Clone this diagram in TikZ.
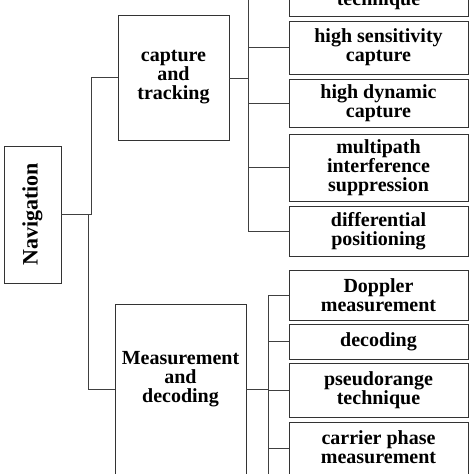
\documentclass[tikz,border=0pt]{standalone}
\usepackage{fontspec}
\setmainfont{Liberation Serif}
\begin{document}
\begin{tikzpicture}[x=1pt,y=-1pt,
  box/.style={draw=black!80,line width=0.9pt,inner sep=0pt,align=center,
    font=\fontsize{20}{19}\selectfont\bfseries},
  txt/.style={inner sep=0pt,align=center,font=\fontsize{20}{19}\selectfont\bfseries},
  wire/.style={draw=black!75,line width=0.9pt}]
\useasboundingbox (0,0) rectangle (474,474);
\clip (0,0) rectangle (474,474);
% root
\node[box,minimum width=57,minimum height=137] (nav) at (32.5,214.5)
  {\rotatebox{90}{\fontsize{22}{22}\selectfont\bfseries Navigation}};
% level 1
\node[box,minimum width=111,minimum height=125] (cap) at (173.5,77.5) {capture\\and\\tracking};
\node[box,minimum width=131,minimum height=190,anchor=north] (meas) at (180.5,304) {};
\node[txt] (meastxt) at (180.5,379) {Measurement\\and\\decoding};
% capture children
\node[box,minimum width=179,minimum height=53] (tech) at (378.5,-10.5) {};
\node[txt,anchor=base] (techtxt) at (378.5,5) {technique};
\node[box,minimum width=179,minimum height=53] (hs) at (378.5,47.5) {high sensitivity\\capture};
\node[box,minimum width=179,minimum height=48] (hd) at (378.5,103) {high dynamic\\capture};
\node[box,minimum width=179,minimum height=67] (mp) at (378.5,167.5) {multipath\\interference\\suppression};
\node[box,minimum width=179,minimum height=50] (dp) at (378.5,231) {differential\\positioning};
% measurement children
\node[box,minimum width=179,minimum height=50] (dop) at (378.5,295) {Doppler\\measurement};
\node[box,minimum width=179,minimum height=35] (dec) at (378.5,341.5) {decoding};
\node[box,minimum width=179,minimum height=54] (pr) at (378.5,390) {pseudorange\\technique};
\node[box,minimum width=179,minimum height=70,anchor=north] (cp) at (378.5,422) {};
\node[txt] (cptxt) at (378.5,447) {carrier phase\\measurement};
% connectors root
\coordinate (f1) at (91,214);
\coordinate (f2) at (88,214);
\draw[wire] (nav.east |- f1) -- (f1) |- (cap.west);
\draw[wire] (f2) -- (88,389) -- (meas.west |- 0,389);
% capture bus
\coordinate (cb) at (248,78);
\draw[wire] (cap.east |- cb) -- (cb);
\draw[wire] (cb |- tech.west) -- (cb |- dp.west);
\foreach \n in {tech,hs,hd,mp,dp} \draw[wire] (cb |- \n.west) -- (\n.west);
% measurement bus
\coordinate (mb) at (268,389);
\draw[wire] (meas.east |- mb) -- (mb);
\draw[wire] (mb |- dop.west) -- (268,480);
\foreach \n in {dop,dec,pr} \draw[wire] (mb |- \n.west) -- (\n.west);
\draw[wire] (mb |- 0,448) -- (cp.west |- 0,448);
\end{tikzpicture}
\end{document}
